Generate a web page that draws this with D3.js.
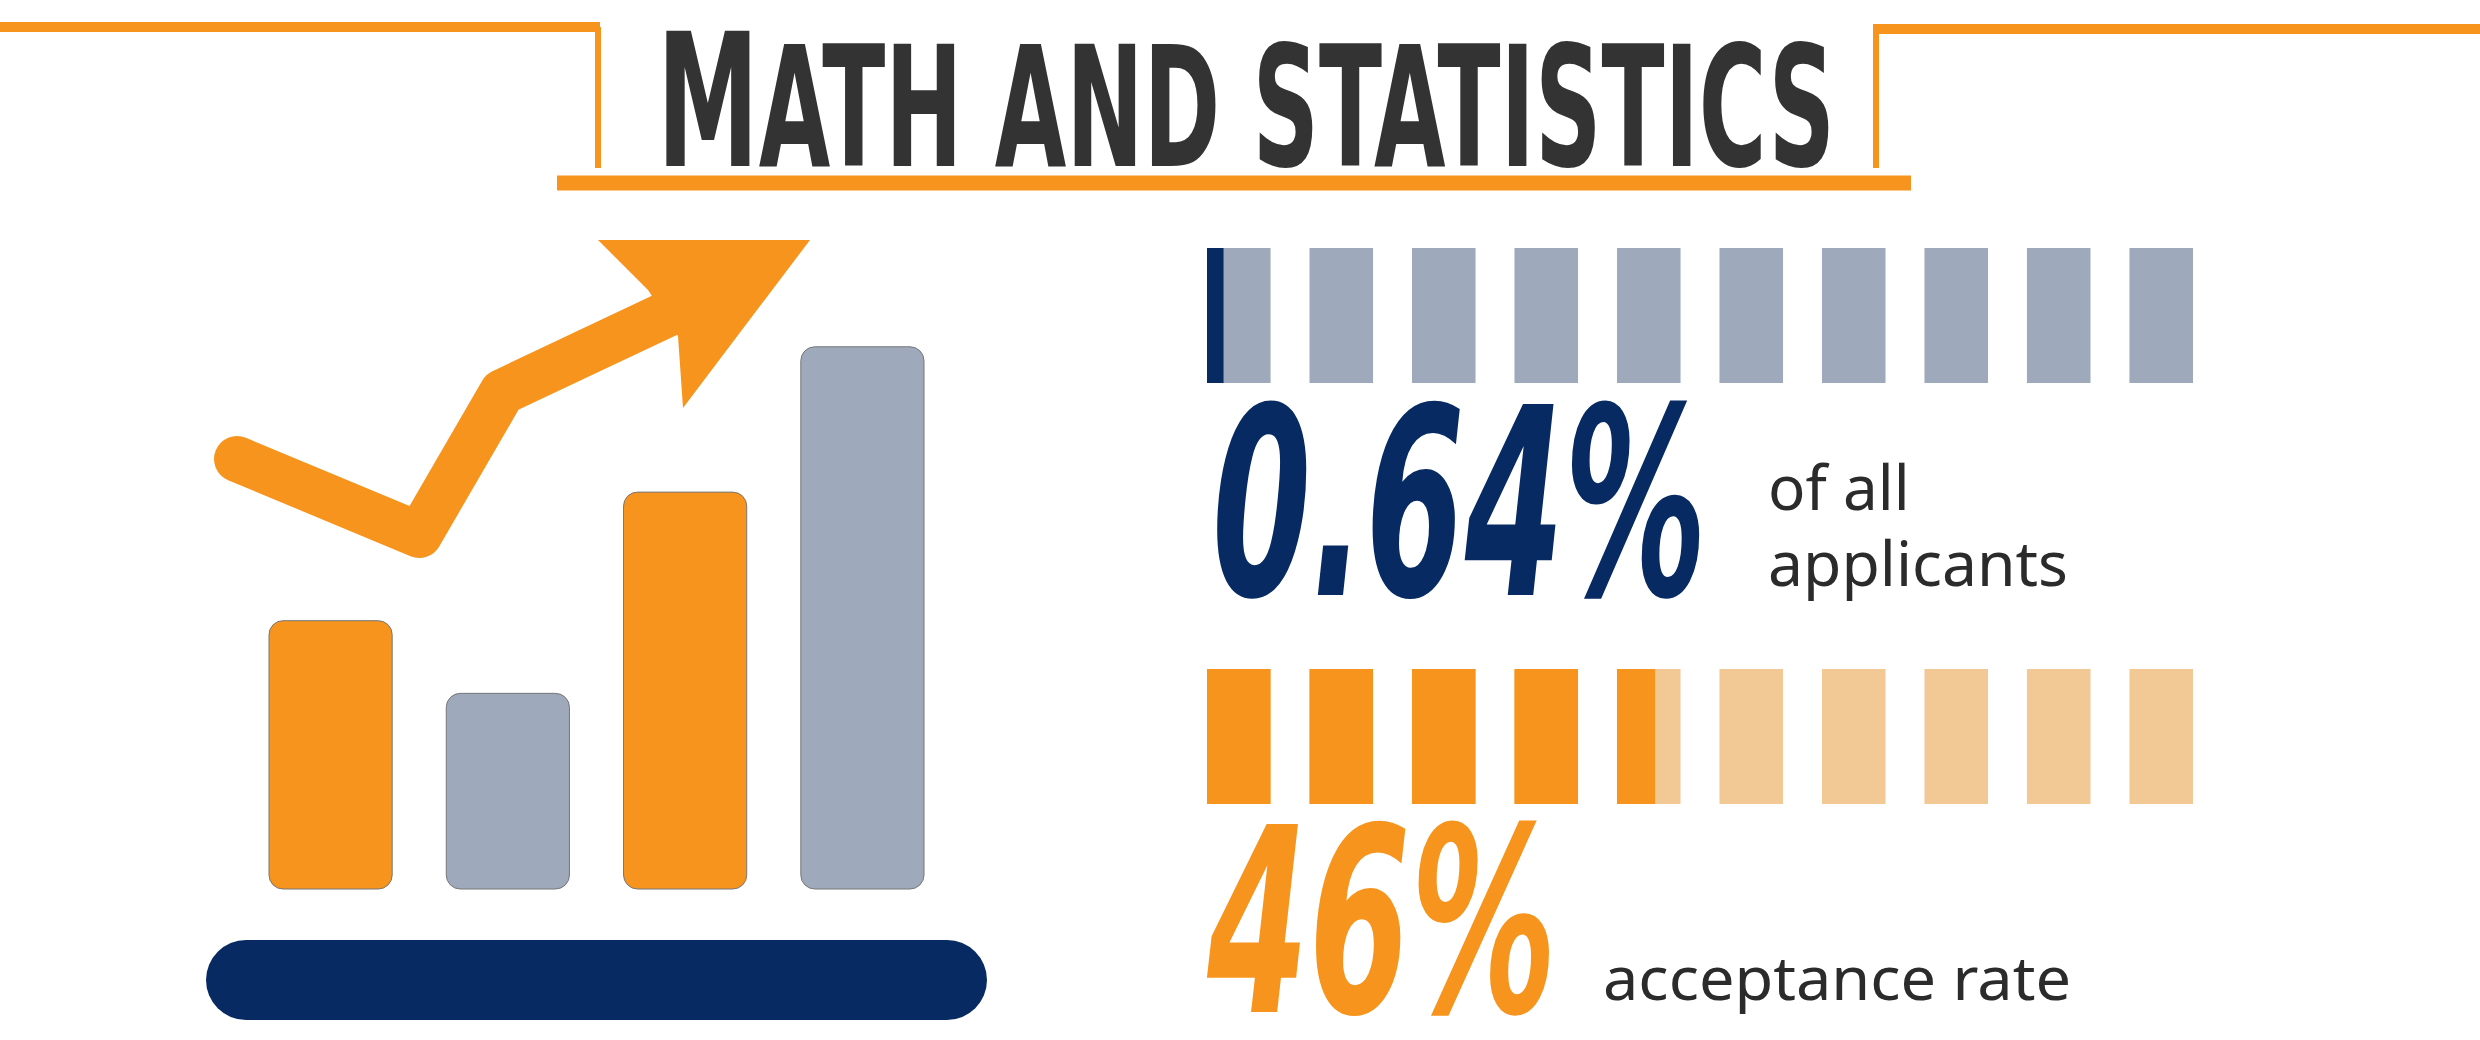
<!DOCTYPE html>
<html>
<head>
<meta charset="utf-8">
<script src="https://cdn.jsdelivr.net/npm/d3@7"></script>
<style>
  body { margin: 0; background: #fff; }
</style>
</head>
<body>
<svg id="chart" width="2480" height="1040"></svg>
<script>
// icon bar heights (relative)
var iconBars = [0.48, 0.35, 0.71, 0.97];
var iconColors = ["#F7941D", "#9EA9BC", "#F7941D", "#9EA9BC"];
// trend arrow points (icon units of the icon box)
var trendX = [0, 0.275, 0.40, 0.655];
var trendY = [0.275, 0.486, 0.089, -0.133];

// waffle rows: cells filled out of 10
var stats = ["0.64%", "46%"];
var labels = [["of all", "applicants"], ["acceptance rate"]];
var filled = [0.26, 4.6];
var cells = d3.range(10);

var navy = "#072A63", orange = "#F7941D", grey = "#9EA9BC", lightOrange = "#F2C895";
var svg = d3.select("#chart");

// title frame
var frame = svg.append("g").attr("fill", "none").attr("stroke", orange);
frame.append("path").attr("d", "M0,27H600").attr("stroke-width", 10);
frame.append("path").attr("d", "M598,27V168").attr("stroke-width", 6);
frame.append("path").attr("d", "M2480,29H1873").attr("stroke-width", 10);
frame.append("path").attr("d", "M1876,29V168").attr("stroke-width", 6);
frame.append("path").attr("d", "M557,183H1911").attr("stroke-width", 15);

var title = svg.append("text")
  .attr("x", 657).attr("y", 166)
  .attr("textLength", 1178).attr("lengthAdjust", "spacingAndGlyphs")
  .attr("font-family", "'Liberation Sans Narrow', 'DejaVu Sans Condensed', sans-serif")
  .attr("font-weight", "bold").attr("fill", "#333");
title.append("tspan").attr("font-size", 186).text("M");
title.append("tspan").attr("font-size", 168).text("ATH AND STATISTICS");

// icon
var ix = d3.scaleBand().domain(d3.range(iconBars.length)).range([269, 924]).paddingInner(0.305);
var iy = d3.scaleLinear().domain([0, 1]).range([889, 330]);
svg.append("g").selectAll("rect").data(iconBars).join("rect")
  .attr("x", function (d, i) { return ix(i); })
  .attr("y", function (d) { return iy(d); })
  .attr("width", ix.bandwidth())
  .attr("height", function (d) { return iy(0) - iy(d); })
  .attr("rx", 14)
  .attr("fill", function (d, i) { return iconColors[i]; })
  .attr("stroke", "#777").attr("stroke-width", 1);

svg.append("line")
  .attr("x1", 246).attr("x2", 947).attr("y1", 980).attr("y2", 980)
  .attr("stroke", navy).attr("stroke-width", 80).attr("stroke-linecap", "round");

var ax = d3.scaleLinear().domain([0, 1]).range([237, 900]);
var ay = d3.scaleLinear().domain([0, 1]).range([360, 720]);
var pts = trendX.map(function (x, i) { return [ax(x), ay(trendY[i])]; });
svg.append("path")
  .attr("d", d3.line()(pts))
  .attr("fill", "none").attr("stroke", orange).attr("stroke-width", 46)
  .attr("stroke-linecap", "round").attr("stroke-linejoin", "round");
svg.append("path")
  .attr("d", "M598,240L810,240L683,408L678,336L648,290Z")
  .attr("fill", orange);

// waffle rows
var wx = d3.scaleBand().domain(cells).range([1207, 2193]).paddingInner(0.38);
var rowTop = [248, 669], rowH = 135;
var baseColors = [grey, lightOrange], fillColors = [navy, orange];

rowTop.forEach(function (top, r) {
  var g = svg.append("g");
  g.selectAll("rect.bg").data(cells).join("rect").attr("class", "bg")
    .attr("x", function (d) { return wx(d); }).attr("y", top)
    .attr("width", wx.bandwidth()).attr("height", rowH)
    .attr("fill", baseColors[r]);
  g.selectAll("rect.fg").data(cells.filter(function (d) { return d < filled[r]; })).join("rect")
    .attr("class", "fg")
    .attr("x", function (d) { return wx(d); }).attr("y", top)
    .attr("width", function (d) { return wx.bandwidth() * Math.min(1, filled[r] - d); })
    .attr("height", rowH)
    .attr("fill", fillColors[r]);
});

// big numbers
var bigFont = "'Liberation Sans Narrow', 'DejaVu Sans Condensed', sans-serif";
svg.append("text").attr("x", 1212).attr("y", 595)
  .attr("textLength", 495).attr("lengthAdjust", "spacingAndGlyphs")
  .attr("font-family", bigFont).attr("font-weight", "bold").attr("font-style", "italic")
  .attr("font-size", 262).attr("fill", navy).text(stats[0]);
svg.append("text").attr("x", 1207).attr("y", 1012)
  .attr("textLength", 350).attr("lengthAdjust", "spacingAndGlyphs")
  .attr("font-family", bigFont).attr("font-weight", "bold").attr("font-style", "italic")
  .attr("font-size", 258).attr("fill", orange).text(stats[1]);

// labels
var labFont = "'Noto Sans', 'Open Sans', sans-serif";
svg.append("text").attr("x", 1768).attr("y", 510)
  .attr("font-family", labFont).attr("font-size", 62).attr("fill", "#2b2b2b").text(labels[0][0]);
svg.append("text").attr("x", 1768).attr("y", 586)
  .attr("textLength", 300).attr("lengthAdjust", "spacingAndGlyphs")
  .attr("font-family", labFont).attr("font-size", 62).attr("fill", "#2b2b2b").text(labels[0][1]);
svg.append("text").attr("x", 1603).attr("y", 1000)
  .attr("textLength", 468).attr("lengthAdjust", "spacingAndGlyphs")
  .attr("font-family", labFont).attr("font-size", 60).attr("fill", "#2b2b2b").text(labels[1][0]);
</script>
</body>
</html>
